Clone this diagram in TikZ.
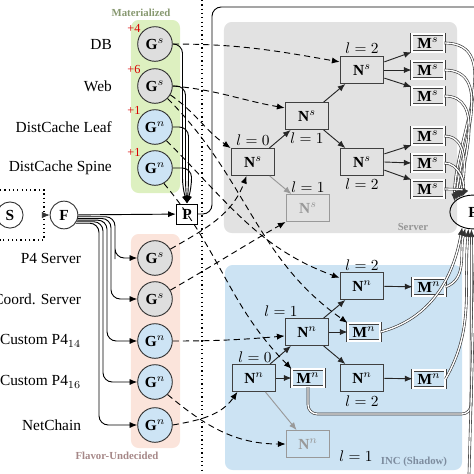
\documentclass[tikz,border=0pt]{standalone}
\usepackage{fontspec}
\setmainfont{Liberation Serif}
\usetikzlibrary{calc}
\usetikzlibrary{positioning}
\usetikzlibrary{arrows.meta}
\usetikzlibrary{shapes.geometric}
\usetikzlibrary{backgrounds}

\definecolor{srvgray}{RGB}{226,226,226}
\definecolor{incblue}{RGB}{204,227,243}
\definecolor{matgreen}{RGB}{221,240,192}
\definecolor{undpink}{RGB}{251,228,219}
\definecolor{circgray}{RGB}{222,222,222}
\definecolor{circblue}{RGB}{205,228,245}
\definecolor{tagmat}{RGB}{135,152,112}
\definecolor{tagund}{RGB}{165,135,135}
\definecolor{tagsrv}{RGB}{150,150,150}
\definecolor{taginc}{RGB}{125,140,158}

\tikzset{node distance=13pt, % gap between label and graph
  every node/.style={align=center},
  >={Latex[length=5pt,width=4pt]},
  gnode/.style={circle, draw=black!80, semithick,
    minimum size=22.5pt, inner sep=0pt},
  gsrv/.style={gnode, fill=circgray},
  ginc/.style={gnode, fill=circblue},
  nbox/.style={draw=black!75, semithick,
    minimum width=28.5pt, minimum height=17.5pt, inner sep=1pt},
  nghost/.style={nbox, draw=black!40, text=black!40},
  mbox/.style={draw=black!75, double, double distance=1.1pt,
    minimum width=21pt, minimum height=11.5pt, inner sep=1pt},
  lvl/.style={},
  cnt/.style={font=\footnotesize, text=red!85!black},
  tag/.style={font=\scriptsize\bfseries},
  bgbox/.style={rounded corners=5pt},
  tedge/.style={->, semithick, black!85},
  gedge/.style={->, semithick, black!40},
  map/.style={->, semithick, dash pattern=on 4pt off 2.6pt},
  feed/.style={->, semithick, rounded corners=6pt},
  merge/.style={->, draw=black!80, double=white, double distance=0.9pt}
}

\begin{document}
\begin{tikzpicture}[x=0.65pt,y=-0.65pt]
  \useasboundingbox (0,0) rectangle (474,474);

  % regions
  \fill[bgbox, matgreen] (131,20) rectangle (180,193);
  \fill[bgbox, undpink] (131,234) rectangle (180,448);
  \fill[bgbox, srvgray] (224,22) rectangle (457,233);
  \fill[bgbox, incblue] (225,265) rectangle (462,470);
  \node[tag, text=tagmat] (tmat) at (141,13) {Materialized};
  \node[tag, text=tagund] (tund) at (117,456) {Flavor-Undecided};
  \node[tag, text=tagsrv] (tsrv) at (413,227) {Server};
  \node[tag, text=taginc] (tinc) at (414,462) {INC (Shadow)};
  \draw[dotted, thick] (202,0) -- (202,474);
  \draw[dotted, thick] (0,190) -- (44,190) -- (44,240) -- (0,240);

  % source side
  \node[gnode, minimum size=17pt] (qs) at (10,215) {$\mathbf{S}$};
  \node[gnode, minimum size=18pt] (qf) at (64,215) {$\mathbf{F}$};
  \node[draw, semithick, minimum width=14pt, minimum height=13pt,
    inner sep=0pt] (qp) at (187,214) {$\mathbf{P}$};
  \node[ellipse, draw, semithick, minimum width=30pt,
    minimum height=22pt] (qpr) at (473,212) {$\mathbf{P}$};
  \coordinate (qout) at (474,7);

  % materialized graphs
  \node[gsrv] (gdb) at (155,44) {$\mathbf{G}^s$};
  \node[gsrv] (gweb) at (155,86) {$\mathbf{G}^s$};
  \node[ginc] (gleaf) at (155,127) {$\mathbf{G}^n$};
  \node[ginc] (gspine) at (155,168) {$\mathbf{G}^n$};
  \node[left=of gdb] (ldb) {DB};
  \node[left=of gweb] (lweb) {Web};
  \node[left=of gleaf] (lleaf) {DistCache Leaf};
  \node[left=of gspine] (lspine) {DistCache Spine};
  \node[cnt] (cdb) at (134,28) {+4};
  \node[cnt] (cweb) at (134,69) {+6};
  \node[cnt] (cleaf) at (134,110) {+1};
  \node[cnt] (cspine) at (134,152) {+1};

  % undecided graphs
  \node[gsrv] (gp4) at (155,258) {$\mathbf{G}^s$};
  \node[gsrv] (gcoord) at (155,299) {$\mathbf{G}^s$};
  \node[ginc] (gcusta) at (155,341) {$\mathbf{G}^n$};
  \node[ginc] (gcustb) at (155,382) {$\mathbf{G}^n$};
  \node[ginc] (gchain) at (155,425) {$\mathbf{G}^n$};
  \node[left=33pt of gp4] (lp4) {P4 Server};
  \node[left=33pt of gcoord] (lcoord) {Coord. Server};
  \node[left=33pt of gcusta] (lcusta) {Custom P4$_{14}$};
  \node[left=33pt of gcustb] (lcustb) {Custom P4$_{16}$};
  \node[left=33pt of gchain] (lchain) {NetChain};

  % server tree
  \node[nbox] (ns0) at (253,162) {$\mathbf{N}^s$};
  \node[nbox] (ns1) at (307,116) {$\mathbf{N}^s$};
  \node[nbox] (ns2a) at (362,70) {$\mathbf{N}^s$};
  \node[nbox] (ns2b) at (362,162) {$\mathbf{N}^s$};
  \node[nghost] (nsx) at (308,208) {$\mathbf{N}^s$};
  \node[lvl] at (253,140) {$l=0$};
  \node[lvl] at (307,138) {$l=1$};
  \node[lvl] at (362,48) {$l=2$};
  \node[lvl] at (362,184) {$l=2$};
  \node[lvl] at (308,187) {$l=1$};
  \foreach \i/\y in {1/43,2/70,3/96,4/136,5/163,6/189}
    \node[mbox] (ms\i) at (428,\y) {$\mathbf{M}^s$};

  % INC tree
  \node[nbox] (nn0) at (254,378) {$\mathbf{N}^n$};
  \node[nbox] (nn1) at (307,332) {$\mathbf{N}^n$};
  \node[nbox] (nn2a) at (362,286) {$\mathbf{N}^n$};
  \node[nbox] (nn2b) at (362,378) {$\mathbf{N}^n$};
  \node[nghost] (nnx) at (308,444) {$\mathbf{N}^n$};
  \node[lvl] at (255,357) {$l=0$};
  \node[lvl] at (281,311) {$l=1$};
  \node[lvl] at (362,265) {$l=2$};
  \node[lvl] at (362,401) {$l=2$};
  \node[lvl] at (356,456) {$l=1$};
  \node[mbox] (mn0) at (308,378) {$\mathbf{M}^n$};
  \node[mbox] (mn1) at (364,332) {$\mathbf{M}^n$};
  \node[mbox] (mn2) at (429,287) {$\mathbf{M}^n$};
  \node[mbox] (mn3) at (429,379) {$\mathbf{M}^n$};

  % tree edges
  \draw[tedge] (ns0) -- (ns1);
  \draw[tedge] (ns1) -- (ns2a);
  \draw[tedge] (ns1) -- (ns2b);
  \draw[gedge] (ns0) -- (nsx);
  \draw[tedge] (ns2a.20) -- (ms1.south west);
  \draw[tedge] (ns2a.east) -- (ms2.west);
  \draw[tedge] (ns2a.-20) -- (ms3.north west);
  \draw[tedge] (ns2b.20) -- (ms4.south west);
  \draw[tedge] (ns2b.east) -- (ms5.west);
  \draw[tedge] (ns2b.-20) -- (ms6.north west);
  \draw[tedge] (nn0) -- (nn1);
  \draw[tedge] (nn0) -- (mn0);
  \draw[gedge] (nn0) -- (nnx);
  \draw[tedge] (nn1) -- (nn2a);
  \draw[tedge] (nn1) -- (mn1);
  \draw[tedge] (nn1) -- (nn2b);
  \draw[tedge] (nn2a) -- (mn2);
  \draw[tedge] (nn2b) -- (mn3);

  % source to graphs
  \draw[->, draw=black!80, double=white, double distance=1pt] (qs) -- (qf);
  \draw[->, semithick] (qf) -- (qp);
  \foreach \g/\x/\k in {gp4/115/1,gcoord/111/2,gcusta/107/3,gcustb/103/4,gchain/99/5}
    \draw[feed] (qf.{-7*\k}) -| (\x,250) |- (\g.west);
  \foreach \g/\dx in {gdb/-4.5,gweb/-1.5,gleaf/1.5,gspine/4.5}
    \draw[feed] (\g.east) -| ($(qp.north)+(\dx,-16)$) -- (qp.north);
  \draw[semithick, rounded corners=6pt] (qp.east) -| (212,7) -- (qout);

  % graph to tree mapping
  \draw[map] (gdb.east) to[out=0, in=170] (ns2a.160);
  \draw[map] (gweb.east) to[out=-5, in=170] (ns1.160);
  \draw[map] (gweb.-30) to[out=-35, in=145] (ns0.north west);
  \draw[map] (gweb.-45) to[out=-45, in=145] (mn1.north west);
  \draw[map] (gleaf.-50) to[out=-45, in=160] (nn2a.160);
  \draw[map] (gspine.-60) to[out=-50, in=135] (mn0.north west);
  \draw[map] (gp4.30) to[out=30, in=-110] (ns0.-115);
  \draw[map] (gcoord.30) to[out=30, in=-150] (nsx.south west);
  \draw[map] (gcusta.east) to[out=0, in=185] (nn1.190);
  \draw[map] (gcustb.-45) to[out=-40, in=180] (nnx.west);
  \draw[map] (gchain.east) to[out=10, in=-125] (nn0.-140);

  % leaves to P
  \foreach \i/\a in {1/150,2/145,3/140,4/135,5/130,6/125}
    \draw[merge] (ms\i.east) to[out=0, in=\a-60] (qpr.\a);
  \draw[merge] (mn1.east) to[out=15, in=-100] (qpr.-125);
  \draw[merge] (mn2.east) to[out=20, in=-105] (qpr.-115);
  \draw[merge] (mn3.east) to[out=60, in=-95] (qpr.-105);
  \draw[merge, rounded corners=6pt] (mn0.south) |- (471,414) -- (qpr.-95);
  \draw[draw=black!80, double=white, double distance=0.9pt] (qpr.-80) -- (469,474);
\end{tikzpicture}
\end{document}
